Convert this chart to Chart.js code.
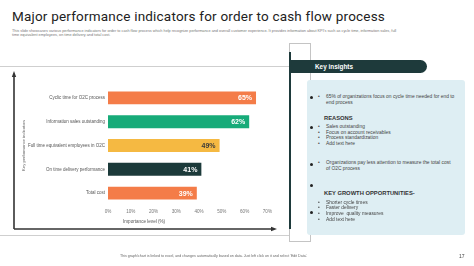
<!DOCTYPE html>
<html>
<head>
<meta charset="utf-8">
<script src="https://cdn.jsdelivr.net/npm/chart.js@4/dist/chart.umd.min.js"></script>
<style>
  html,body{margin:0;padding:0;background:#fff;}
  body{width:474px;height:266px;position:relative;overflow:hidden;font-family:"Liberation Sans",Arial,sans-serif;}
  .abs{position:absolute;}
  #title{left:12px;top:7.5px;font-family:Roboto,"Open Sans",sans-serif;font-size:13.5px;color:#222;white-space:nowrap;letter-spacing:0.2px;}
  #sub{left:12px;top:28.5px;width:462px;font-size:3.8px;line-height:4.8px;color:#777;white-space:nowrap;}
  .hline{position:absolute;height:1px;background:#cfcfcf;}
  #chartwrap{left:16px;top:80px;width:260px;height:148px;}
  #xtitle{left:123px;top:219px;font-size:4.6px;color:#555;white-space:nowrap;}
  #footer{left:120px;top:254px;font-size:3.6px;color:#666;white-space:nowrap;}
  #pnum{left:459px;top:253px;font-size:5px;color:#444;}
  #grect{left:289px;top:43px;width:22px;height:199px;border:1px solid #c4c4c4;box-sizing:border-box;}
  #bluebox{left:307px;top:80px;width:158px;height:155px;background:#deeef3;border-radius:3px;}
  #vbar{left:288.5px;top:52px;width:2.5px;height:177px;background:#1e3a3b;}
  #pill{left:289px;top:60px;width:138px;height:13px;background:#1e3a3b;border-radius:0 7px 7px 0;}
  #pilltxt{left:315px;top:62.5px;font-size:6.4px;font-weight:bold;color:#fff;white-space:nowrap;}
  .dot{position:absolute;width:3.5px;height:3.5px;border-radius:50%;background:#222;}
  .txt{position:absolute;font-size:4.9px;line-height:5.7px;color:#444;}
  .hd{position:absolute;font-size:5.8px;font-weight:bold;color:#333;white-space:nowrap;}
  ul{margin:0;padding:0;list-style:none;}
  ul li{position:relative;padding-left:8px;white-space:nowrap;}
  ul li:before{content:"•";position:absolute;left:0;}
</style>
</head>
<body>
<div id="title" class="abs">Major performance indicators for order to cash flow process</div>
<div id="sub" class="abs">This slide showcases various performance indicators for order to cash flow process which help recognize performance and overall customer experience. It provides information about KPI's such as cycle time, information sales, full<br>time equivalent employees, on time delivery and total cost.</div>

<div class="hline" style="left:0;top:66px;width:289px;"></div>
<div class="hline" style="left:0;top:235px;width:289px;"></div>

<svg class="abs" style="left:0;top:0;" width="300" height="240">
  <line x1="14" y1="229" x2="14" y2="76" stroke="#333" stroke-width="1.6"/>
  <polygon points="14,71 11.8,77 16.2,77" fill="#333"/>
  <line x1="14" y1="229" x2="272" y2="229" stroke="#333" stroke-width="1.6"/>
  <polygon points="277,229 271,226.8 271,231.2" fill="#333"/>
</svg>

<div id="chartwrap" class="abs"><canvas id="c"></canvas></div>
<div id="xtitle" class="abs">Importance level (%)</div>

<div id="grect" class="abs"></div>
<div id="bluebox" class="abs"></div>
<div id="vbar" class="abs"></div>
<div id="pill" class="abs"></div>
<div id="pilltxt" class="abs">Key insights</div>

<div class="dot" style="left:309.5px;top:95.5px;"></div>
<div class="dot" style="left:309.5px;top:125.5px;"></div>
<div class="dot" style="left:309.5px;top:162.5px;"></div>
<div class="dot" style="left:309.5px;top:183.5px;"></div>
<div class="dot" style="left:309.5px;top:210.5px;"></div>

<div class="txt" style="left:318px;top:94px;">
  <ul><li>65% of organizations focus on cycle time needed for end to<br>end process</li></ul>
</div>
<div class="hd" style="left:324px;top:115px;">REASONS</div>
<div class="txt" style="left:318px;top:124px;">
  <ul><li>Sales outstanding</li><li>Focus on account receivables</li><li>Process standardization</li><li>Add text here</li></ul>
</div>
<div class="txt" style="left:318px;top:160px;">
  <ul><li>Organizations pay less attention to measure the total cost<br>of O2C process</li></ul>
</div>
<div class="hd" style="left:324px;top:190px;">KEY GROWTH OPPORTUNITIES-</div>
<div class="txt" style="left:318px;top:199.5px;">
  <ul><li>Shorter cycle times</li><li>Faster delivery</li><li>Improve &nbsp;quality measures</li><li>Add text here</li></ul>
</div>

<div id="footer" class="abs">This graph/chart is linked to excel, and changes automatically based on data. Just left click on it and select 'Edit Data'.</div>
<div id="pnum" class="abs">17</div>

<script>
const categories = [
  "Cyclic time for O2C process",
  "Information sales outstanding",
  "Full time equivalent employees in O2C",
  "On time delivery performance",
  "Total cost"
];
const values = [65, 62, 49, 41, 39];
const barColors = ["#f47c48", "#17ab79", "#f5b942", "#1c3a3a", "#f47c48"];
const labelColors = ["#ffffff", "#ffffff", "#3a3a3a", "#ffffff", "#ffffff"];
const xTicks = [0, 10, 20, 30, 40, 50, 60, 70];

const valueLabels = {
  id: "valueLabels",
  afterDatasetsDraw(chart) {
    const ctx = chart.ctx;
    const meta = chart.getDatasetMeta(0);
    ctx.save();
    ctx.font = "bold 7px 'Liberation Sans', Arial, sans-serif";
    ctx.textAlign = "right";
    ctx.textBaseline = "middle";
    meta.data.forEach((bar, i) => {
      ctx.fillStyle = labelColors[i];
      ctx.fillText(values[i] + "%", bar.x - 4, bar.y + 0.5);
    });
    ctx.restore();
  }
};

new Chart(document.getElementById("c"), {
  type: "bar",
  data: {
    labels: categories,
    datasets: [{
      data: values,
      backgroundColor: barColors,
      borderWidth: 0,
      barPercentage: 0.54,
      categoryPercentage: 1
    }]
  },
  options: {
    indexAxis: "y",
    responsive: true,
    maintainAspectRatio: false,
    animation: false,
    layout: { padding: { top: 6, right: 0, bottom: 0, left: 0 } },
    plugins: { legend: { display: false }, tooltip: { enabled: false } },
    scales: {
      x: {
        min: 0, max: 70,
        afterBuildTicks(scale) { scale.ticks = xTicks.map(v => ({ value: v })); },
        grid: { display: false, drawTicks: false },
        border: { display: false },
        ticks: {
          padding: 4,
          color: "#777",
          font: { size: 4.6, family: "'Liberation Sans', Arial, sans-serif" },
          callback: v => v + "%"
        },
        afterFit(scale) { scale.height = 23; }
      },
      y: {
        grid: { display: false, drawTicks: false },
        border: { display: false },
        ticks: {
          padding: 3,
          color: "#555",
          font: { size: 4.5, family: "'Liberation Sans', Arial, sans-serif" }
        },
        title: {
          display: true,
          text: "Key performance indicators",
          color: "#666",
          font: { size: 4.2, family: "'Liberation Sans', Arial, sans-serif" },
          padding: { top: 5, bottom: 0 }
        },
        afterFit(scale) { scale.width = 92; }
      }
    }
  },
  plugins: [valueLabels]
});
</script>
</body>
</html>
